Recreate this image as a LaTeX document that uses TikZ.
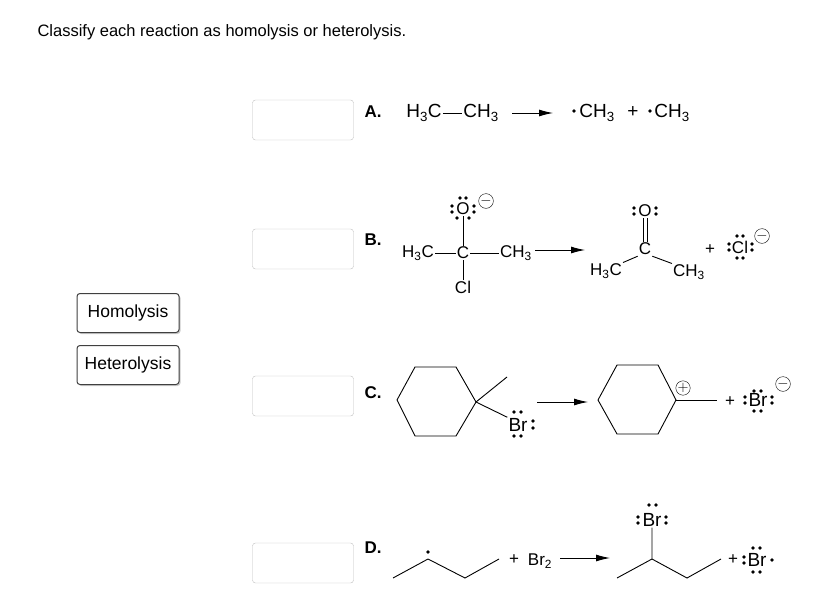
\documentclass[tikz,border=0pt]{standalone}
\usepackage{fontspec}
\setmainfont{Liberation Sans}
\usetikzlibrary{arrows.meta,shadows}
\begin{document}
\begin{tikzpicture}[x=1pt,y=-1pt,
  ansbox/.style={draw=black!25,rounded corners=3pt,minimum width=101pt,minimum height=40pt,fill=white},
  optbox/.style={draw=black!75,line width=1pt,rounded corners=3pt,minimum width=102pt,minimum height=39pt,fill=white,font=\fontsize{17.5}{19}\selectfont,drop shadow={shadow xshift=1.5pt,shadow yshift=-1.5pt,fill=black!40}},
  lbl/.style={font=\bfseries\fontsize{17}{19}\selectfont},
  chem/.style={font=\fontsize{19}{21}\selectfont,inner sep=1pt},
  chs/.style={font=\fontsize{17}{19}\selectfont,inner sep=1pt},
  rxn/.style={-{Latex[length=14pt,width=7pt]},line width=0.9pt},
  bnd/.style={line width=0.9pt},
  chg/.style={draw,circle,inner sep=0pt,minimum size=14pt,font=\fontsize{14}{14}\selectfont}]
\useasboundingbox (0,0) rectangle (821,605);
\newcommand{\dt}[1]{\fill #1 circle (1.8pt);}
\node[anchor=west,font=\fontsize{16.5}{18}\selectfont] (title) at (34,32) {Classify each reaction as homolysis or heterolysis.};
% answer boxes
\node[ansbox] (ba) at (303,120) {};
\node[ansbox] (bb) at (303,249) {};
\node[ansbox] (bc) at (303,396) {};
\node[ansbox] (bd) at (303,563) {};
\node[optbox] (hom) at (128,313) {Homolysis};
\node[optbox] (het) at (128,365) {Heterolysis};
% A
\node[lbl] (la) at (373,112) {A.};
\node[chem] (a1) at (424,113) {H\textsubscript{3}C};
\node[chem] (a2) at (481,113) {CH\textsubscript{3}};
\draw[bnd] (a1.east) -- (a2.west);
\node[chem] (a3) at (597,113) {CH\textsubscript{3}};
\node[chem] (ap) at (633,112) {+};
\node[chem] (a4) at (672,113) {CH\textsubscript{3}};
\dt{(574,111)} \dt{(650,111)}
\draw[rxn] (512,113) -- (553,113);
% B
\node[lbl] (lb) at (373,240) {B.};
\node[chs] (b1) at (418,253) {H\textsubscript{3}C};
\node[chs] (bC) at (463,253) {C};
\node[chs] (b2) at (516,253) {CH\textsubscript{3}};
\node[chs] (bO) at (463,209) {O};
\node[chs] (bCl) at (463,287) {Cl};
\draw[bnd] (b1.east) -- (bC.west) (bC.east) -- (b2.west) (bC.north) -- (bO.south) (bC.south) -- (bCl.north);
\dt{(460,198)} \dt{(466,198)} \dt{(452,206)} \dt{(452,212)} \dt{(474,206)} \dt{(474,212)} \dt{(457,218)} \dt{(469,218)}
\node[chg] (bm) at (486,201) {$-$};
\draw[rxn] (535,250) -- (585,250);
\node[chs] (pO) at (645,211) {O};
\node[chs] (pC) at (645,249) {C};
\node[chs] (p1) at (606,271) {H\textsubscript{3}C};
\node[chs] (p2) at (689,272) {CH\textsubscript{3}};
\draw[bnd] ([xshift=-2pt]pC.north) -- ([xshift=-2pt]pO.south) ([xshift=2pt]pC.north) -- ([xshift=2pt]pO.south);
\draw[bnd] (pC.south west) -- (p1.north east) (pC.south east) -- (p2.north west);
\dt{(634,208)} \dt{(634,214)} \dt{(656,208)} \dt{(656,214)}
\node[chs] (bplus) at (710,250) {+};
\node[chs] (pCl) at (740,247) {Cl};
\dt{(737,236)} \dt{(743,236)} \dt{(737,258)} \dt{(743,258)} \dt{(729,244)} \dt{(729,250)} \dt{(752,244)} \dt{(752,250)}
\node[chg] (clm) at (762,236) {$-$};
% C
\node[lbl] (lc) at (373,393) {C.};
\draw[bnd] (397,400) -- (415,367) -- (456,367) -- (476,402) -- (456,436) -- (415,436) -- cycle;
\node[chem] (cBr) at (518,425) {Br};
\draw[bnd] (476,402) -- (507,377) (476,402) -- (cBr.north west);
\dt{(514,412)} \dt{(521,412)} \dt{(514,436)} \dt{(521,436)} \dt{(533,421)} \dt{(533,428)}
\draw[rxn] (537,402) -- (588,402);
\draw[bnd] (598,400) -- (617,365) -- (658,365) -- (676,400) -- (658,434) -- (617,434) -- cycle;
\draw[bnd] (676,400) -- (717,400);
\node[chg] (cp) at (683,388) {$+$};
\node[chs] (cplus) at (730,402) {+};
\node[chem] (cBr2) at (758,400) {Br};
\dt{(754,391)} \dt{(761,391)} \dt{(754,411)} \dt{(761,411)} \dt{(745,397)} \dt{(745,403)} \dt{(772,397)} \dt{(772,403)}
\node[chg] (cm) at (783,384) {$-$};
% D
\node[lbl] (ld) at (373,548) {D.};
\draw[bnd] (393,578) -- (428,559) -- (465,578) -- (499,559);
\dt{(428,552)}
\node[chs] (dp) at (514,560) {+};
\node[chs] (dBr2) at (540,561) {Br\textsubscript{2}};
\draw[rxn] (560,558) -- (610,558);
\node[chem] (dBr) at (652,520) {Br};
\draw[bnd] (617,578) -- (652,559) -- (687,578) -- (721,559) (652,559) -- (dBr.south);
\dt{(649,505)} \dt{(656,505)} \dt{(638,517)} \dt{(638,523)} \dt{(666,517)} \dt{(666,523)}
\node[chs] (dplus) at (733,560) {+};
\node[chem] (dBr3) at (757,560) {Br};
\dt{(753,548)} \dt{(760,548)} \dt{(753,572)} \dt{(760,572)} \dt{(744,557)} \dt{(744,563)} \dt{(772,560)}
\end{tikzpicture}
\end{document}
